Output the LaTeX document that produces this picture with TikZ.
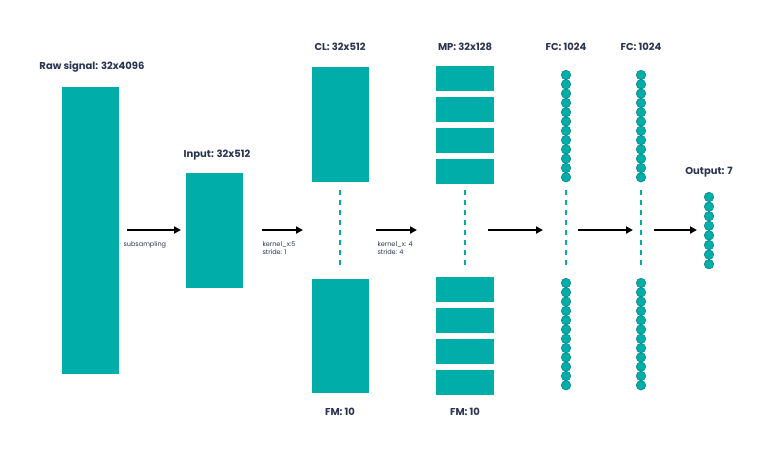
\documentclass[tikz,border=0pt]{standalone}
\usepackage{fontspec}
\setmainfont{Poppins}
\usetikzlibrary{arrows.meta}
\definecolor{teal}{RGB}{0,173,168}
\definecolor{navy}{RGB}{40,52,80}
\tikzset{
  block/.style = {fill=teal, draw=teal, inner sep=0pt, minimum width=#1},
  unit/.style = {circle, fill=teal, draw=teal!70!black, line width=0.4pt, inner sep=0pt, minimum size=9.6pt},
  title/.style = {font=\bfseries\fontsize{10}{12}\selectfont, text=navy},
  note/.style = {font=\fontsize{6.5}{8}\selectfont, text=navy, align=left, anchor=north west},
  flow/.style = {-{Triangle[length=7pt,width=7pt]}, line width=2pt},
  gap/.style = {teal, line width=1.2pt, dash pattern=on 5pt off 5pt}
}
\begin{document}
\begin{tikzpicture}[x=1pt, y=-1pt, > = Stealth]
  \useasboundingbox (0,0) rectangle (768,461);
  % Define blocks
  \node (raw) [block=56pt, minimum height=286pt] at (90,230) {};
  \node (inp) [block=56pt, minimum height=114pt] at (214,230) {};
  \node (clt) [block=56pt, minimum height=114pt] at (340,124) {};
  \node (clb) [block=56pt, minimum height=113pt] at (340,335.5) {};
  \foreach \y [count=\i] in {78,109,140,171} {
    \node (mpt\i) [block=57pt, minimum height=24pt] at (464.5,\y) {};
  }
  \foreach \y [count=\i] in {289,320,351,382} {
    \node (mpb\i) [block=57pt, minimum height=24pt] at (464.5,\y) {};
  }
  % Fully connected units
  \foreach \x/\n in {566/fa,641/fb} {
    \foreach \i in {0,...,11} {
      \node (\n t\i) [unit] at (\x,{75+\i*9.3}) {};
      \node (\n b\i) [unit] at (\x,{283+\i*9.3}) {};
    }
  }
  \foreach \i in {0,...,7} {
    \node (out\i) [unit] at (709,{197+\i*9.6}) {};
  }

  % Titles
  \node [title] at (92,67) {Raw signal: 32x4096};
  \node [title] at (217,155) {Input: 32x512};
  \node [title] at (340,47) {CL: 32x512};
  \node [title] at (340,412) {FM: 10};
  \node [title] at (465,47) {MP: 32x128};
  \node [title] at (465,412) {FM: 10};
  \node [title] at (566,47) {FC: 1024};
  \node [title] at (641,47) {FC: 1024};
  \node [title] at (709,172) {Output: 7};

  % Dashed gaps
  \coordinate (c1) at (340,190); \coordinate (c2) at (340,270);
  \coordinate (m1) at (465,190); \coordinate (m2) at (465,270);
  \coordinate (f1) at (566,190); \coordinate (f2) at (566,270);
  \coordinate (g1) at (641,190); \coordinate (g2) at (641,270);
  \draw[gap] (c1) -- (c2);
  \draw[gap] (m1) -- (m2);
  \draw[gap] (f1) -- (f2);
  \draw[gap] (g1) -- (g2);

  % Draw arrows
  \coordinate (a1) at (127,230); \coordinate (b1) at (181,230);
  \coordinate (a2) at (262,230); \coordinate (b2) at (303,230);
  \coordinate (a3) at (376,230); \coordinate (b3) at (417,230);
  \coordinate (a4) at (488,230); \coordinate (b4) at (543,230);
  \coordinate (a5) at (578,230); \coordinate (b5) at (633,230);
  \coordinate (a6) at (654,230); \coordinate (b6) at (697,230);
  \draw[flow] (a1) -- (b1);
  \draw[flow] (a2) -- (b2);
  \draw[flow] (a3) -- (b3);
  \draw[flow] (a4) -- (b4);
  \draw[flow] (a5) -- (b5);
  \draw[flow] (a6) -- (b6);
  \node [note] at (120,238) {subsampling};
  \node [note] at (259,238) {kernel\_x:5\\stride: 1};
  \node [note] at (374,238) {kernel\_x: 4\\stride: 4};
\end{tikzpicture}
\end{document}
